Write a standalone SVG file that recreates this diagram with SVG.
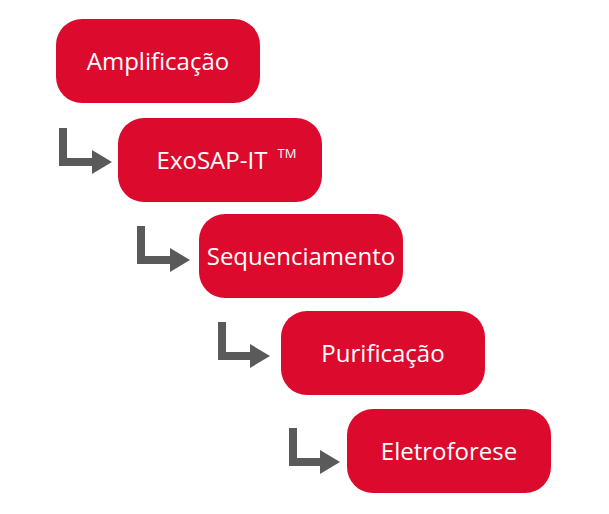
<svg xmlns="http://www.w3.org/2000/svg" width="609" height="514" viewBox="0 0 609 514">
<style>
.b{fill:#dc0a2d}
.t{fill:#fff;font-family:"Open Sans",sans-serif;font-size:24px;text-anchor:middle}
.a{fill:none;stroke:#5a5a5a;stroke-width:8}
.h{fill:#5a5a5a}
</style>
<rect width="609" height="514" fill="#fff"/>
<g id="conn">
<path class="a" d="M63 128V162H96"/><path class="h" d="M92 150L112 162L92 174Z"/>
<path class="a" d="M141 226V260H174"/><path class="h" d="M170 248L190 260L170 272Z"/>
<path class="a" d="M222 322V356H254"/><path class="h" d="M250 344L270 356L250 368Z"/>
<path class="a" d="M293 428V462H324"/><path class="h" d="M320 450L340 462L320 474Z"/>
</g>
<g id="n1"><rect class="b" x="56" y="19" width="204" height="84" rx="26"/><text class="t" x="158" y="70">Amplificação</text></g>
<g id="n2"><rect class="b" x="118" y="118" width="204" height="84" rx="26"/><text class="t" x="212" y="169">ExoSAP-IT</text><text class="t" x="287" y="158" style="font-size:13px">TM</text></g>
<g id="n3"><rect class="b" x="199" y="214" width="204" height="84" rx="26"/><text class="t" x="301" y="265">Sequenciamento</text></g>
<g id="n4"><rect class="b" x="281" y="311" width="204" height="84" rx="26"/><text class="t" x="383" y="362">Purificação</text></g>
<g id="n5"><rect class="b" x="347" y="409" width="204" height="84" rx="26"/><text class="t" x="449" y="460">Eletroforese</text></g>
</svg>
